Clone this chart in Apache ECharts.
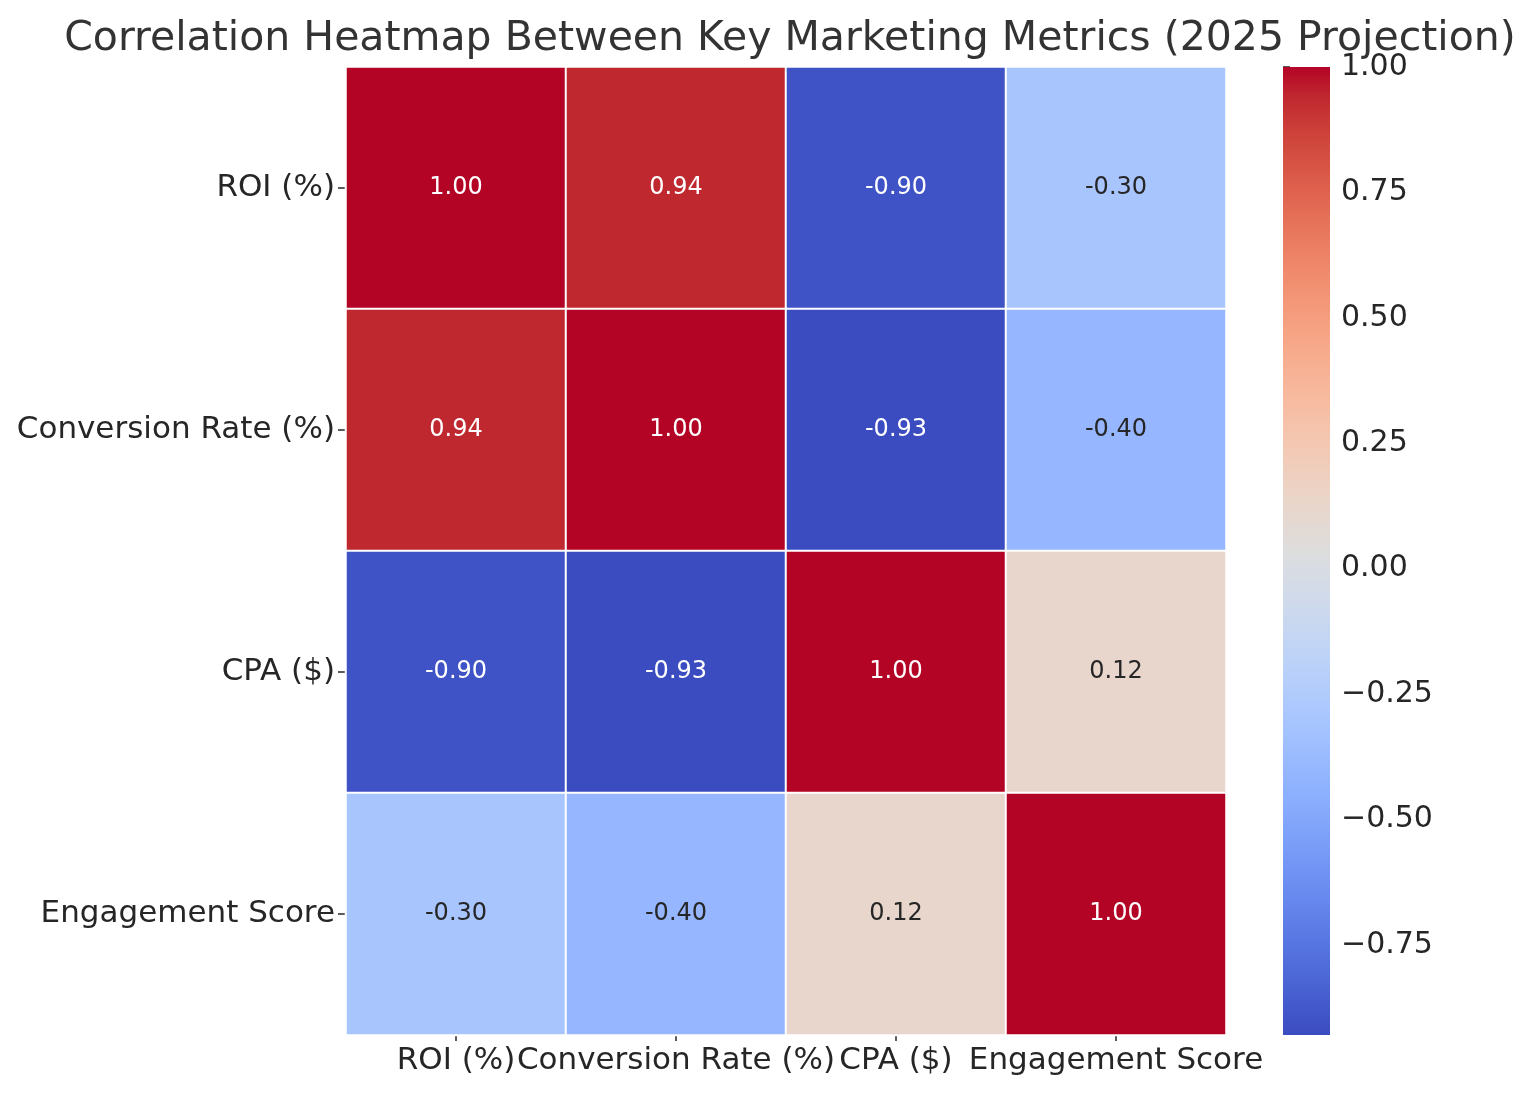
<!DOCTYPE html>
<html>
<head>
<meta charset="utf-8">
<script src="https://cdn.jsdelivr.net/npm/echarts@6/dist/echarts.min.js"></script>
<style>
  html, body { margin: 0; padding: 0; background: #fff; }
  #main { width: 1536px; height: 1095px; }
</style>
</head>
<body>
<div id="main"></div>
<script>
// metrics (row order top to bottom, column order left to right)
var metrics = ['ROI (%)', 'Conversion Rate (%)', 'CPA ($)', 'Engagement Score'];
var corr = [
  [1.00, 0.94, -0.90, -0.30],
  [0.94, 1.00, -0.93, -0.40],
  [-0.90, -0.93, 1.00, 0.12],
  [-0.30, -0.40, 0.12, 1.00]
];
var cbTicks = [-0.75, -0.5, -0.25, 0, 0.25, 0.5, 0.75, 1.0];
var vmin = -0.93, vmax = 1.00;

// coolwarm colormap
var coolwarm = [
  '#3b4cc0', '#445acc', '#4d68d7', '#5775e1', '#6282ea', '#6c8ef1', '#779af7', '#82a5fb',
  '#8db0fe', '#98b9ff', '#a3c2ff', '#aec9fd', '#b8d0f9', '#c2d5f4', '#ccd9ee', '#d5dbe6',
  '#dddddd', '#e5d8d1', '#ecd3c5', '#f1ccb9', '#f5c4ad', '#f7bba0', '#f7b194', '#f7a687',
  '#f49a7b', '#f18d6f', '#ec7f63', '#e57058', '#de604d', '#d55042', '#cb3e38', '#c0282f',
  '#b40426'
];

var data = [];
for (var i = 0; i < metrics.length; i++) {
  for (var j = 0; j < metrics.length; j++) {
    var v = corr[i][j];
    data.push({
      value: [j, i, v],
      label: { color: Math.abs(v) > 0.6 ? '#ffffff' : '#262626' }
    });
  }
}

var gradStops = coolwarm.map(function (c, k) {
  return { offset: 1 - k / (coolwarm.length - 1), color: c };
});

var font = 'DejaVu Sans';
var chart = echarts.init(document.getElementById('main'));
chart.setOption({
  animation: false,
  backgroundColor: '#fff',
  textStyle: { fontFamily: font },
  title: {
    text: 'Correlation Heatmap Between Key Marketing Metrics (2025 Projection)',
    left: 785, textAlign: 'center', top: 14,
    textStyle: { fontFamily: font, fontSize: 41, fontWeight: 'normal', color: '#333333' }
  },
  grid: [
    { left: 346, top: 67, width: 880, height: 968 },
    { left: 1283, top: 67, width: 47, height: 968 }
  ],
  xAxis: [
    {
      type: 'category', gridIndex: 0, data: metrics, position: 'bottom',
      axisLine: { show: false },
      axisTick: { show: true, alignWithLabel: true, length: 6, lineStyle: { color: '#262626', width: 1.5 } },
      axisLabel: { fontFamily: font, fontSize: 31, color: '#262626', margin: 10, interval: 0 },
      splitLine: { show: false }
    },
    { type: 'value', gridIndex: 1, min: 0, max: 1, show: false }
  ],
  yAxis: [
    {
      type: 'category', gridIndex: 0, data: metrics, inverse: true,
      axisLine: { show: false },
      axisTick: { show: true, alignWithLabel: true, length: 8, lineStyle: { color: '#262626', width: 1.5 } },
      axisLabel: { fontFamily: font, fontSize: 31, color: '#262626', margin: 11 },
      splitLine: { show: false }
    },
    {
      type: 'value', gridIndex: 1, min: vmin, max: vmax, position: 'right',
      axisLine: { show: false },
      splitLine: { show: false },
      axisTick: { show: true, length: 7, customValues: cbTicks, lineStyle: { color: '#262626', width: 1.5 } },
      axisLabel: {
        fontFamily: font, fontSize: 30, color: '#262626', margin: 11,
        customValues: cbTicks,
        formatter: function (v) { return (v < 0 ? '\u2212' : '') + Math.abs(v).toFixed(2); }
      }
    }
  ],
  visualMap: {
    show: false, type: 'continuous', min: vmin, max: vmax, dimension: 2, seriesIndex: 0,
    inRange: { color: coolwarm }
  },
  series: [
    {
      type: 'heatmap', xAxisIndex: 0, yAxisIndex: 0, data: data,
      itemStyle: { borderColor: '#ffffff', borderWidth: 2 },
      label: {
        show: true, fontFamily: font, fontSize: 24,
        formatter: function (p) { return p.value[2].toFixed(2); }
      },
      emphasis: { disabled: true }
    },
    {
      type: 'custom', xAxisIndex: 1, yAxisIndex: 1, data: [[0, vmax, 1, vmin]],
      renderItem: function (params, api) {
        var p1 = api.coord([api.value(0), api.value(1)]);
        var p2 = api.coord([api.value(2), api.value(3)]);
        return {
          type: 'rect',
          shape: { x: p1[0], y: p1[1], width: p2[0] - p1[0], height: p2[1] - p1[1] },
          style: { fill: new echarts.graphic.LinearGradient(0, 0, 0, 1, gradStops) }
        };
      },
      silent: true
    }
  ]
});
</script>
</body>
</html>
